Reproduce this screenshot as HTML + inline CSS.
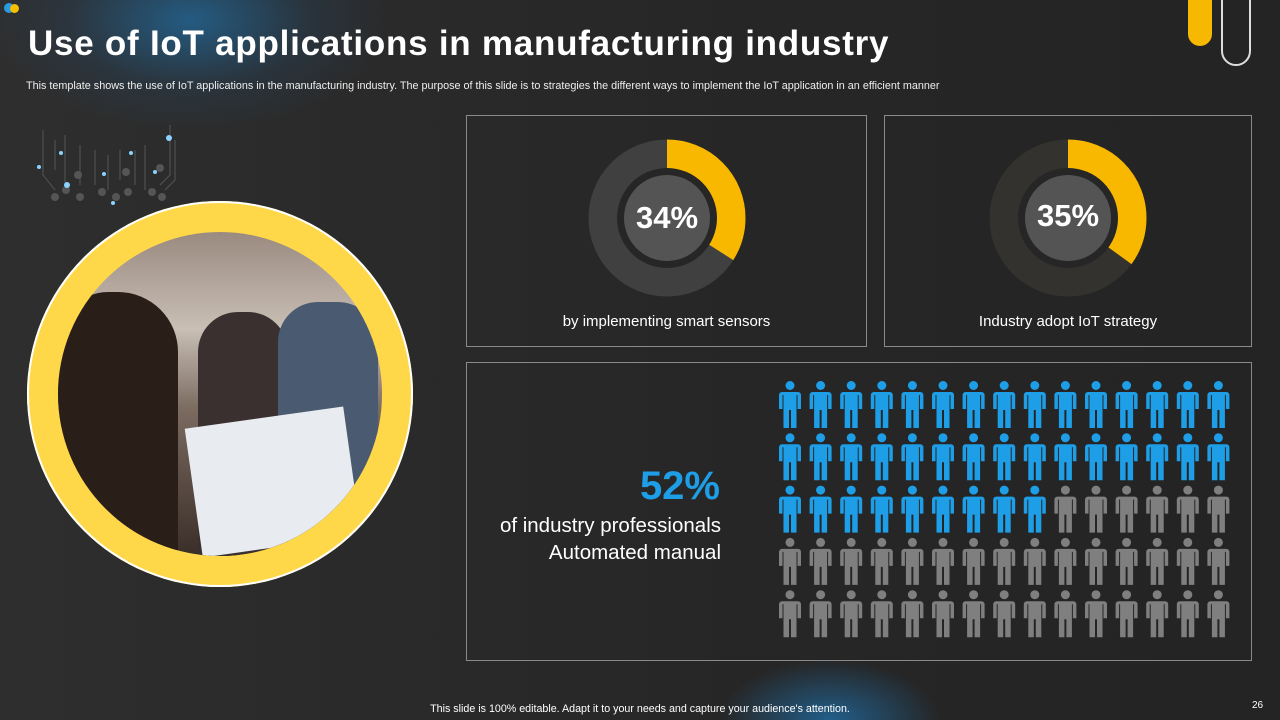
<!DOCTYPE html>
<html><head><meta charset="utf-8"><style>
body{margin:0;width:1280px;height:720px;overflow:hidden;background:#262626;font-family:"Liberation Sans",sans-serif;position:relative}
.bg{position:absolute;inset:0;background:
radial-gradient(ellipse 200px 110px at 190px 20px,rgba(30,130,200,.55),rgba(30,100,160,.15) 60%,transparent 100%),
radial-gradient(ellipse 110px 60px at 830px 720px,rgba(30,140,220,.55),transparent 100%),
linear-gradient(90deg,#2e2e2e,#262626 60%,#242424)}
.t{position:absolute;color:#fff}
.box{position:absolute;border:1px solid #8a8a8a;box-sizing:border-box}
</style></head><body><div class="bg"></div>
<div style="position:absolute;left:4px;top:3px;width:10px;height:10px;border-radius:50%;background:#2a9be0"></div>
<div style="position:absolute;left:10px;top:4px;width:9px;height:9px;border-radius:50%;background:#f6c000"></div>
<div style="position:absolute;left:1188px;top:-20px;width:24px;height:66px;border-radius:12px;background:#f6b800"></div>
<div style="position:absolute;left:1221px;top:-20px;width:30px;height:86px;border-radius:15px;border:2px solid #ddd;box-sizing:border-box"></div>
<div class="t" style="left:28px;top:24px;font-size:35px;font-weight:bold;letter-spacing:0.75px">Use of IoT applications in manufacturing industry</div>
<div class="t" style="left:26px;top:80px;font-size:10.8px;color:#eee;white-space:nowrap">This template shows the use of IoT applications in the manufacturing industry. The purpose of this slide is to strategies the different ways to implement the IoT application in an efficient manner</div>
<svg style="position:absolute;left:30px;top:110px" width="160" height="100">
<g stroke="#555" fill="none" stroke-width="1"><path d="M13 20V65L25 80M25 30V60M35 25V75M50 35V75M65 40V75M78 45V80M90 40V70M105 40V75M115 35V80M140 15V65L130 75M145 30V70L135 80"/></g>
<g fill="#555"><circle cx="25" cy="87" r="4"/><circle cx="36" cy="80" r="4"/><circle cx="50" cy="87" r="4"/><circle cx="72" cy="82" r="4"/><circle cx="86" cy="87" r="4"/><circle cx="98" cy="82" r="4"/><circle cx="122" cy="82" r="4"/><circle cx="132" cy="87" r="4"/><circle cx="48" cy="65" r="4"/><circle cx="96" cy="62" r="4"/><circle cx="130" cy="58" r="4"/></g>
<g fill="#8cd3ff"><circle cx="9" cy="57" r="2"/><circle cx="31" cy="43" r="2"/><circle cx="37" cy="75" r="3"/><circle cx="74" cy="64" r="2"/><circle cx="101" cy="43" r="2"/><circle cx="139" cy="28" r="3"/><circle cx="125" cy="62" r="2"/><circle cx="83" cy="93" r="2"/></g></svg>
<div style="position:absolute;left:27px;top:201px;width:386px;height:386px;border-radius:50%;background:radial-gradient(circle,#ffd84a 75%,#f2b400 88%,#ffe070 100%);box-shadow:0 0 0 2px #fff inset"></div>
<div style="position:absolute;left:58px;top:232px;width:324px;height:324px;border-radius:50%;overflow:hidden;background:linear-gradient(180deg,#9a8a80 0%,#c9bfb5 30%,#7a6a60 55%,#3a2e28 100%)">
<div style="position:absolute;left:0;top:60px;width:120px;height:264px;background:#2a1e18;border-radius:50px 60px 0 0"></div>
<div style="position:absolute;left:140px;top:80px;width:90px;height:244px;background:#3a3030;border-radius:40px 40px 0 0"></div>
<div style="position:absolute;left:220px;top:70px;width:100px;height:254px;background:#4a5a70;border-radius:40px 40px 0 0"></div>
<div style="position:absolute;left:135px;top:185px;width:160px;height:130px;background:#e8ecf0;transform:rotate(-8deg)"></div>
</div>
<div class="box" style="left:466px;top:115px;width:401px;height:232px"></div>
<div class="box" style="left:884px;top:115px;width:368px;height:232px"></div>
<div class="box" style="left:466px;top:362px;width:786px;height:299px"></div>
<svg style="position:absolute;left:0;top:0" width="1280" height="720">
<g transform="translate(667,218)"><circle r="64" fill="none" stroke="#404040" stroke-width="29"/><circle r="64" fill="none" stroke="#f8b800" stroke-width="29" stroke-dasharray="136.7 400" transform="rotate(-90)"/><circle r="50" fill="#262626"/><circle r="43" fill="#545454"/></g>
<g transform="translate(1068,218)"><circle r="64" fill="none" stroke="#34322e" stroke-width="29"/><circle r="64" fill="none" stroke="#f8b800" stroke-width="29" stroke-dasharray="140.7 400" transform="rotate(-90)"/><circle r="50" fill="#262626"/><circle r="43" fill="#545454"/></g>
<defs><g id="p"><circle cx="11" cy="4.5" r="4.5"/><path d="M3 11h16a3 3 0 0 1 3 3v14h-3.5v-14h-1v33h-5.5v-18h-2v18h-5.5v-33h-1v14h-3.5v-14a3 3 0 0 1 3-3z"/></g></defs>
<g id="grid"></g>
</svg>
<div class="t" style="left:623px;top:200px;width:88px;text-align:center;font-size:31px;font-weight:bold">34%</div>
<div class="t" style="left:1024px;top:198px;width:88px;text-align:center;font-size:31px;font-weight:bold">35%</div>
<div class="t" style="left:466px;top:313px;width:401px;text-align:center;font-size:15px">by implementing smart sensors</div>
<div class="t" style="left:884px;top:313px;width:368px;text-align:center;font-size:15px">Industry adopt IoT strategy</div>
<div class="t" style="left:480px;top:464px;width:240px;text-align:right;font-size:40px;font-weight:bold;color:#1e9ee6">52%</div>
<div class="t" style="left:420px;top:512px;width:301px;text-align:right;font-size:20.5px;line-height:27px">of industry professionals<br>Automated manual</div>
<div class="t" style="left:0;top:703px;width:1280px;text-align:center;font-size:10.7px">This slide is 100% editable. Adapt it to your needs and capture your audience's attention.</div>
<div class="t" style="left:1252px;top:700px;font-size:10px">26</div>
<script>
var g=document.getElementById('grid'),s='';
for(var r=0;r<5;r++)for(var c=0;c<15;c++){var i=r*15+c;var col=i<39?'#1e9ee6':'#7f7f7f';
s+='<use href="#p" fill="'+col+'" x="'+(779+c*30.6)+'" y="'+(381+r*52.3)+'"/>';}
g.innerHTML=s;
</script>
</body></html>
